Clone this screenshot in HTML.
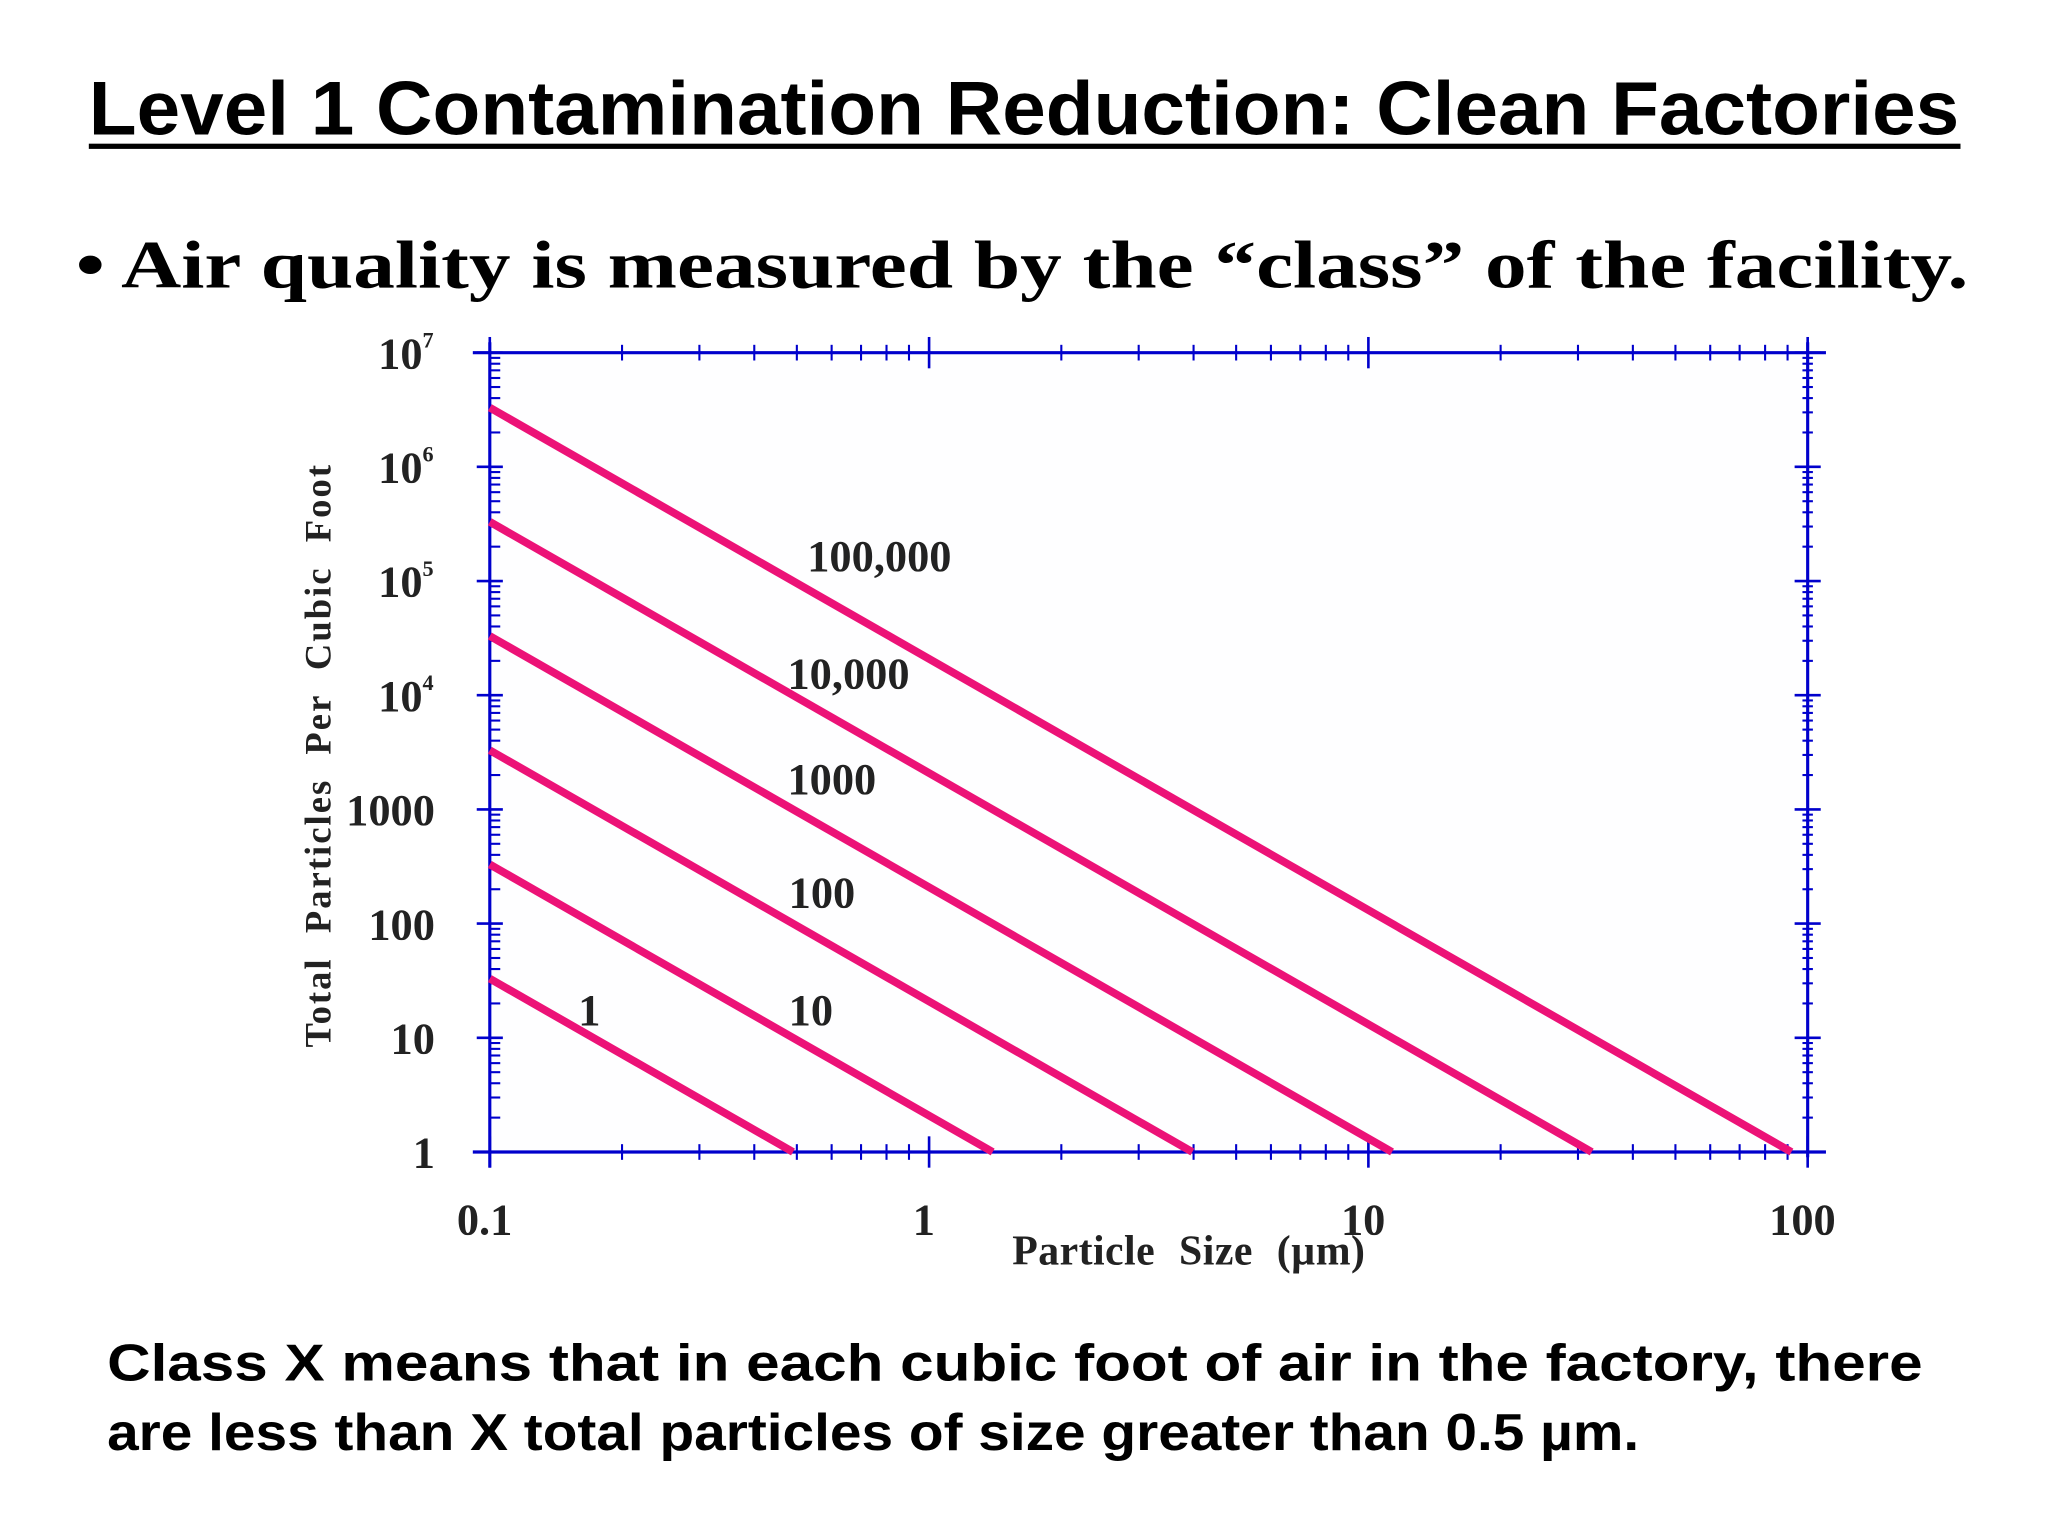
<!DOCTYPE html>
<html><head><meta charset="utf-8"><style>
html,body{margin:0;padding:0;background:#fff;}
svg{display:block;}
</style></head><body>
<svg id="chart" width="2048" height="1536" viewBox="0 0 1568 1176" xmlns="http://www.w3.org/2000/svg">
<rect width="1568" height="1176" fill="#fff"/>
<text x="68" y="103" font-family="Liberation Sans, sans-serif" font-weight="bold" font-size="58" textLength="1432" lengthAdjust="spacingAndGlyphs" fill="#000">Level 1 Contamination Reduction: Clean Factories</text>
<rect x="68" y="110" width="1433" height="4" fill="#000"/>
<text x="58" y="220" font-family="Liberation Serif, serif" font-weight="bold" font-size="52" textLength="1449" lengthAdjust="spacingAndGlyphs" fill="#000">• Air quality is measured by the “class” of the facility.</text>
<g id="plot"></g>
<text x="82" y="1057" font-family="Liberation Sans, sans-serif" font-weight="bold" font-size="40" textLength="1390" lengthAdjust="spacingAndGlyphs" fill="#000">Class X means that in each cubic foot of air in the factory, there</text>
<text x="82" y="1110" font-family="Liberation Sans, sans-serif" font-weight="bold" font-size="40" textLength="1173" lengthAdjust="spacingAndGlyphs" fill="#000">are less than X total particles of size greater than 0.5 µm.</text>
</svg>
<script>
const classes = [1, 10, 100, 1000, 10000, 100000];
const classLabels = ["1", "10", "100", "1000", "10,000", "100,000"];
const slopeExponent = 2.2;
const refSize = 0.49;
const xTicks = [0.1, 1, 10, 100];
const xTickLabels = ["0.1", "1", "10", "100"];
const yTicks = [1, 10, 100, 1000, 1e4, 1e5, 1e6, 1e7];
const yTickLabels = ["1", "10", "100", "1000", "10^4", "10^5", "10^6", "10^7"];
const labelSizeX = [0.159, 0.479, 0.479, 0.476, 0.476, 0.528];
const labelCountY = [12.9, 12.9, 138, 1365, 11500, 123000];

const NS = "http://www.w3.org/2000/svg";
const L = 375, R = 1384, T = 270, B = 882;
const xs = v => L + (Math.log10(v) - Math.log10(0.1)) / 3 * (R - L);
const ys = v => B - Math.log10(v) / 7 * (B - T);
const g = document.getElementById('plot');
const blue = "#0000cc";
function el(tag, attrs, parent) { const e = document.createElementNS(NS, tag); for (const k in attrs) e.setAttribute(k, attrs[k]); (parent || g).appendChild(e); return e; }

let e;
e = el('rect', {x: L, y: T, width: R - L, height: B - T, fill: "#fefeff", stroke: "none"});


e = el('line', {x1: 362, y1: T, x2: 1398, y2: T, stroke: blue, 'stroke-width': 2.4});


e = el('line', {x1: 362, y1: B, x2: 1398, y2: B, stroke: blue, 'stroke-width': 2.4});


e = el('line', {x1: L, y1: T - 8, x2: L, y2: B + 12, stroke: blue, 'stroke-width': 2.4});


e = el('line', {x1: R, y1: T - 8, x2: R, y2: B + 4, stroke: blue, 'stroke-width': 2.4});



for (let d = 0; d < xTicks.length; d++) {
  const base = xTicks[d];
  const x = xs(base);
  e = el('line', {x1: x, y1: B - 12, x2: x, y2: B + 12, stroke: blue, 'stroke-width': 2});
  
  
  e = el('line', {x1: x, y1: T - 12, x2: x, y2: T + 12, stroke: blue, 'stroke-width': 2});
  
  
  const t = el('text', {x: x - 4, y: 945, 'text-anchor': 'middle', 'font-family': 'Liberation Serif, serif', 'font-weight': 'bold', 'font-size': 34, fill: '#222'});
  t.textContent = xTickLabels[d];
  
  
  if (d < xTicks.length - 1) for (let m = 2; m <= 9; m++) {
    const xm = xs(base * m);
    e = el('line', {x1: xm, y1: B - 6, x2: xm, y2: B + 6, stroke: blue, 'stroke-width': 1.6});
    
    
    e = el('line', {x1: xm, y1: T - 6, x2: xm, y2: T + 6, stroke: blue, 'stroke-width': 1.6});
    
    
  }
}
for (let d = 0; d < yTicks.length; d++) {
  const base = yTicks[d];
  const y = ys(base);
  e = el('line', {x1: L - 10, y1: y, x2: L + 10, y2: y, stroke: blue, 'stroke-width': 2});
  
  
  e = el('line', {x1: R - 10, y1: y, x2: R + 10, y2: y, stroke: blue, 'stroke-width': 2});
  
  
  const lab = yTickLabels[d];
  const t = el('text', {x: 333, y: y + 12, 'text-anchor': 'end', 'font-family': 'Liberation Serif, serif', 'font-weight': 'bold', 'font-size': 34, fill: '#222'});
  if (lab.indexOf('^') > 0) {
    const p = lab.split('^');
    t.textContent = p[0];
    const s = el('tspan', {'font-size': 17, dy: -16}, t);
    s.textContent = p[1];
    t.setAttribute('x', 332);
  } else t.textContent = lab;
  
  
  if (d < yTicks.length - 1) for (let m = 2; m <= 9; m++) {
    const ym = ys(base * m);
    e = el('line', {x1: L, y1: ym, x2: L + 8, y2: ym, stroke: blue, 'stroke-width': 1.6});
    
    
    e = el('line', {x1: R - 4, y1: ym, x2: R + 4, y2: ym, stroke: blue, 'stroke-width': 1.6});
    
    
  }
}

for (let i = 0; i < classes.length; i++) {
  const c = classes[i];
  const y0 = c * Math.pow(refSize / 0.1, slopeExponent);
  const dEnd = refSize * Math.pow(c, 1 / slopeExponent);
  const ln = el('line', {x1: xs(0.1), y1: ys(y0), x2: xs(dEnd), y2: ys(1), stroke: '#ec1277', 'stroke-width': 6});
  
  
  const t = el('text', {x: xs(labelSizeX[i]), y: ys(labelCountY[i]), 'font-family': 'Liberation Serif, serif', 'font-weight': 'bold', 'font-size': 34, fill: '#222'});
  t.textContent = classLabels[i];
  
  
}

let t = el('text', {x: 910, y: 968, 'text-anchor': 'middle', 'font-family': 'Liberation Serif, serif', 'font-weight': 'bold', 'font-size': 32, fill: '#222', 'word-spacing': 10, textLength: 270, lengthAdjust: 'spacing'});
t.textContent = 'Particle Size (µm)';


t = el('text', {x: 0, y: 0, 'text-anchor': 'middle', 'font-family': 'Liberation Serif, serif', 'font-weight': 'bold', 'font-size': 28, fill: '#222', 'letter-spacing': 2, 'word-spacing': 10, transform: 'translate(253,578) rotate(-90)', textLength: 448, lengthAdjust: 'spacing'});
t.textContent = 'Total Particles Per Cubic Foot';


</script>
</body></html>
